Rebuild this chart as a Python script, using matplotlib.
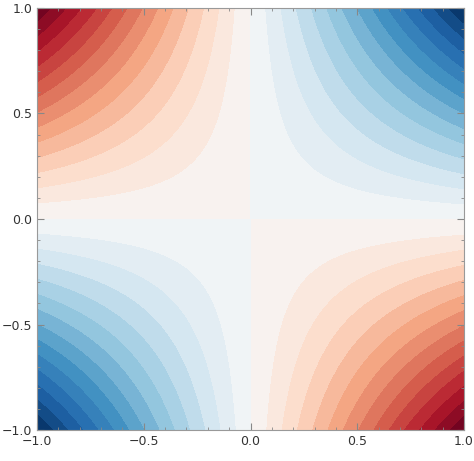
import numpy as np
import matplotlib.pyplot as plt
from matplotlib.ticker import MultipleLocator

x_vals = np.linspace(-1, 1, 401)
y_vals = np.linspace(-1, 1, 401)
levels = np.linspace(-1, 1, 29)
ticks = [-1.0, -0.5, 0.0, 0.5, 1.0]

X, Y = np.meshgrid(x_vals, y_vals)
Z = X * Y

fig = plt.figure(figsize=(4.74, 4.61), dpi=100)
ax = fig.add_axes([37/474, 31/461, 427/474, 422/461])
ax.contourf(X, Y, Z, levels=levels, cmap='RdBu')
ax.set_xlim(-1, 1); ax.set_ylim(-1, 1)
ax.set_xticks(ticks); ax.set_yticks(ticks)
ax.xaxis.set_minor_locator(MultipleLocator(0.1))
ax.yaxis.set_minor_locator(MultipleLocator(0.1))
ax.tick_params(which='both', direction='in', top=True, right=True, colors='#888888', labelcolor='#333333', labelsize=9)
ax.tick_params(which='major', length=5)
ax.tick_params(which='minor', length=2.5)
for s in ax.spines.values():
    s.set_color('#999999')
fig.savefig('out.png', dpi=100)
